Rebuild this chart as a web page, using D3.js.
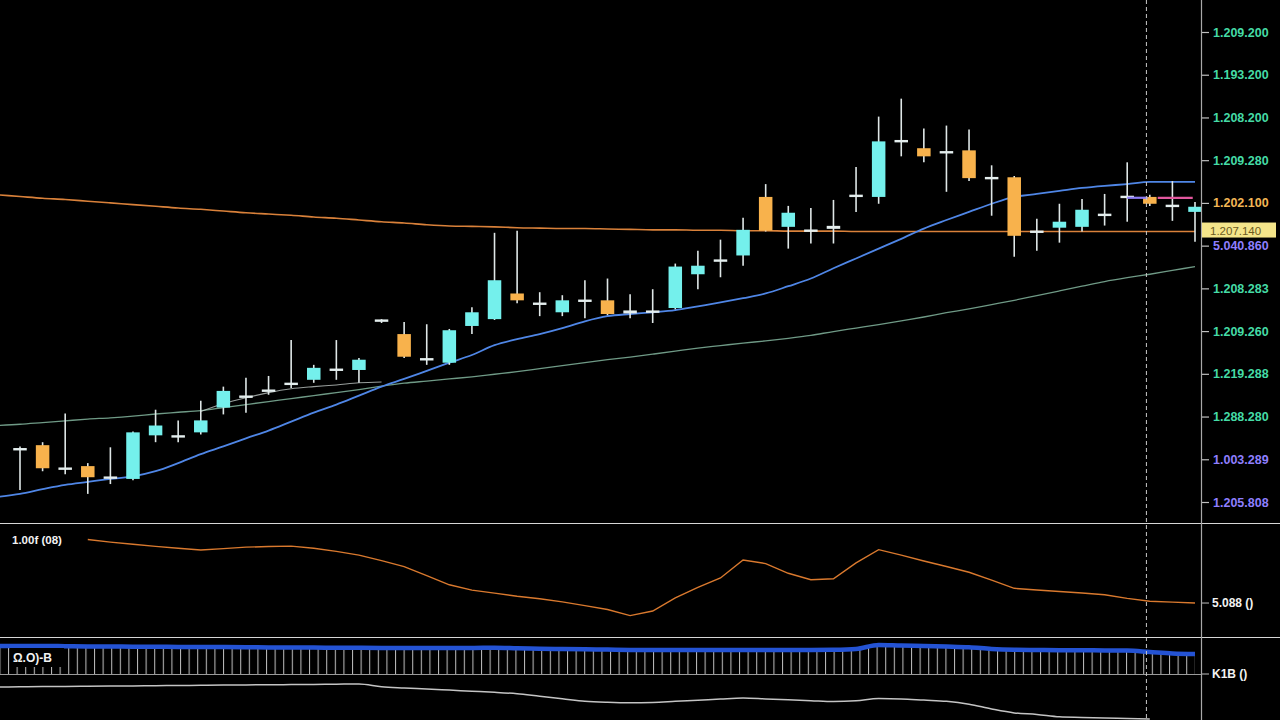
<!DOCTYPE html>
<html>
<head>
<meta charset="utf-8">
<script src="https://cdn.jsdelivr.net/npm/d3@7/dist/d3.min.js"></script>
<style>
html, body { margin: 0; padding: 0; background: #000; }
svg { display: block; }
text { font-family: "Liberation Sans", Arial, sans-serif; }
</style>
</head>
<body>
<svg id="chart" width="1280" height="720"></svg>
<script>
// candles (bar 1..53)
const opens  = [1.20121,1.20133,1.20077,1.20084,1.20056,1.20054,1.20156,1.20151,1.20163,1.20221,1.20244,1.20258,1.20274,1.20286,1.20307,1.20309,1.20423,1.20393,1.20333,1.20326,1.20412,1.20428,1.20488,1.20463,1.20444,1.20470,1.20472,1.20449,1.20444,1.20454,1.20533,1.20563,1.20577,1.20714,1.20644,1.20633,1.20640,1.20714,1.20714,1.20842,1.20828,1.20816,1.20823,1.20756,1.20760,1.20630,1.20642,1.20644,1.20670,1.20712,1.20714,1.20691,1.20679];
const highs  = [1.20130,1.20140,1.20207,1.20091,1.20128,1.20165,1.20216,1.20191,1.20237,1.20270,1.20291,1.20295,1.20379,1.20321,1.20379,1.20337,1.20428,1.20421,1.20416,1.20405,1.20456,1.20630,1.20635,1.20491,1.20484,1.20519,1.20523,1.20486,1.20498,1.20558,1.20588,1.20614,1.20665,1.20744,1.20693,1.20688,1.20707,1.20784,1.20902,1.20944,1.20874,1.20881,1.20872,1.20788,1.20763,1.20663,1.20698,1.20709,1.20721,1.20795,1.20719,1.20751,1.20702];
const lows   = [1.20028,1.20072,1.20065,1.20019,1.20042,1.20051,1.20140,1.20140,1.20158,1.20205,1.20209,1.20251,1.20267,1.20279,1.20286,1.20279,1.20419,1.20337,1.20321,1.20321,1.20393,1.20426,1.20465,1.20435,1.20435,1.20430,1.20437,1.20430,1.20419,1.20451,1.20498,1.20526,1.20553,1.20633,1.20593,1.20605,1.20605,1.20679,1.20698,1.20809,1.20795,1.20726,1.20751,1.20670,1.20574,1.20588,1.20607,1.20633,1.20647,1.20656,1.20693,1.20658,1.20609];
const closes = [1.20126,1.20079,1.20079,1.20058,1.20058,1.20163,1.20179,1.20156,1.20191,1.20260,1.20249,1.20263,1.20279,1.20314,1.20312,1.20333,1.20426,1.20340,1.20335,1.20402,1.20444,1.20519,1.20472,1.20465,1.20472,1.20472,1.20440,1.20442,1.20447,1.20551,1.20553,1.20567,1.20637,1.20635,1.20677,1.20637,1.20647,1.20719,1.20844,1.20847,1.20809,1.20821,1.20758,1.20760,1.20623,1.20635,1.20656,1.20684,1.20674,1.20716,1.20698,1.20695,1.20691];

// overlay lines, bar 0..53 (bar 0 = the one just left of the screen)
const maFast = [1.20012,1.20019,1.20030,1.20040,1.20047,1.20054,1.20060,1.20072,1.20091,1.20112,1.20130,1.20149,1.20167,1.20188,1.20209,1.20228,1.20249,1.20270,1.20288,1.20307,1.20326,1.20344,1.20367,1.20381,1.20393,1.20407,1.20423,1.20435,1.20440,1.20444,1.20449,1.20458,1.20467,1.20477,1.20488,1.20505,1.20523,1.20547,1.20570,1.20593,1.20616,1.20640,1.20660,1.20679,1.20698,1.20714,1.20721,1.20728,1.20735,1.20740,1.20744,1.20749,1.20749,1.20749];
const maSlow = [1.20719,1.20715,1.20711,1.20708,1.20704,1.20700,1.20696,1.20692,1.20688,1.20685,1.20681,1.20677,1.20674,1.20671,1.20667,1.20664,1.20660,1.20656,1.20653,1.20649,1.20646,1.20645,1.20644,1.20642,1.20641,1.20640,1.20640,1.20639,1.20638,1.20637,1.20637,1.20636,1.20636,1.20635,1.20635,1.20634,1.20634,1.20634,1.20633,1.20633,1.20633,1.20633,1.20633,1.20633,1.20633,1.20633,1.20633,1.20633,1.20633,1.20633,1.20633,1.20633,1.20633,1.20633];
const maTrend = [1.20179,1.20182,1.20186,1.20190,1.20194,1.20197,1.20201,1.20206,1.20210,1.20214,1.20221,1.20228,1.20235,1.20242,1.20249,1.20256,1.20263,1.20271,1.20278,1.20283,1.20288,1.20293,1.20299,1.20305,1.20312,1.20319,1.20326,1.20333,1.20339,1.20346,1.20353,1.20360,1.20366,1.20372,1.20377,1.20383,1.20390,1.20399,1.20407,1.20415,1.20424,1.20433,1.20443,1.20452,1.20462,1.20472,1.20483,1.20494,1.20505,1.20516,1.20525,1.20533,1.20542,1.20551];
// short faint guide drawn over bars 9..17
const guide = [null,null,null,null,null,null,null,null,null,1.20212,1.20230,1.20244,1.20256,1.20265,1.20270,1.20274,1.20279,1.20281,null,null,null,null,null,null,null,null,null,null,null,null,null,null,null,null,null,null,null,null,null,null,null,null,null,null,null,null,null,null,null,null,null,null,null,null];

// lower panels, bar 0..53
const osc = [null,null,null,null,85.5,83.2,81.3,79.5,77.8,76.3,77.5,78.8,79.4,79.7,77.8,75.1,71.8,67.0,61.7,53.8,45.8,41.1,38.5,35.7,33.5,30.8,27.5,24.1,18.8,22.8,34.4,43.5,51.8,67.5,64.4,55.9,50.2,51.1,65.0,76.6,71.8,66.7,61.8,56.8,49.9,42.7,41.2,39.9,38.6,37.1,33.9,31.3,30.6,29.8];
const signal = [28,28,28,27.8,27.6,27.5,27.3,27.2,27.1,27.0,26.9,26.8,26.6,26.5,26.4,26.3,26.2,26.1,26.0,26.0,26.0,26.0,26.3,25.8,25.3,25.0,24.7,24.4,24.1,24.0,24.0,24.0,24.0,24.0,24.0,24.0,24.0,24.2,25.0,29.0,28.4,28.0,27.5,26.8,25.0,24.2,24.0,23.8,23.7,23.6,23.5,22.0,20.5,20.0];
const slowSignal = [-13,-12.8,-12.6,-12.5,-12.3,-12.1,-11.9,-11.7,-11.5,-11.3,-11.1,-10.9,-10.8,-10.6,-10.4,-10.2,-10,-12.8,-14,-15,-16.1,-17.2,-18.3,-19.8,-22.3,-24.7,-27.2,-28.3,-28.8,-28.4,-27.3,-26.2,-25,-24,-24.9,-25.8,-26.7,-27.6,-26.8,-24.6,-24.9,-26.1,-27.3,-30.2,-35,-38.9,-40.4,-42.8,-43.4,-44,-44.6,-45,null,null];

// right axis
const priceTicks = [1.2110,1.2100,1.2090,1.2080,1.2070,1.2060,1.2050,1.2040,1.2030,1.2020,1.2010,1.2000];
const priceTickLabels = ["1.209.200","1.193.200","1.208.200","1.209.280","1.202.100","5.040.860","1.208.283","1.209.260","1.219.288","1.288.280","1.003.289","1.205.808"];
const maSlowLabel = "1.207.140";
const oscLabel = "1.00f (08)";
const oscValueLabel = "5.088 ()";
const volLabel = "Ω.O)-B";
const volValueLabel = "K1B ()";

// bid/ask markers near the last bars
const levelPrice = [1.20712, 1.20712];
const levelFrom = [50, 51.35];
const levelTo = [50.9, 52.9];
const crosshairBar = 50.85;

const svg = d3.select("#chart");
const axisX = 1201;
const x = d3.scaleLinear().domain([1, 53]).range([20, 1195]);
const y = d3.scaleLinear().domain([1.2000, 1.2110]).range([502, 32]);
const yOsc = d3.scaleLinear().domain([0, 100]).range([637, 523]);
const yVol = d3.scaleLinear().domain([-46, 37]).range([720, 637]);

svg.append("rect").attr("width", 1280).attr("height", 720).attr("fill", "#000");

const defs = svg.append("defs");
defs.append("clipPath").attr("id", "clipMain").append("rect").attr("x", 0).attr("y", 0).attr("width", axisX).attr("height", 523);
defs.append("clipPath").attr("id", "clipOsc").append("rect").attr("x", 0).attr("y", 524).attr("width", axisX).attr("height", 113);
defs.append("clipPath").attr("id", "clipVol").append("rect").attr("x", 0).attr("y", 638).attr("width", axisX).attr("height", 82);
const hatch = defs.append("pattern").attr("id", "hatch").attr("patternUnits", "userSpaceOnUse")
  .attr("x", 8).attr("width", 8.6).attr("height", 10);
hatch.append("line").attr("x1", 0.5).attr("x2", 0.5).attr("y1", 0).attr("y2", 10)
  .attr("stroke", "#b8b8b8").attr("stroke-width", 1.1);

// ---------- main panel ----------
const main = svg.append("g").attr("clip-path", "url(#clipMain)");
const bars = d3.range(0, 54);

const lineOf = (arr, ys, curve) => d3.line()
  .defined(k => arr[k] != null)
  .x(k => x(k)).y(k => ys(arr[k]))
  .curve(curve || d3.curveMonotoneX);

main.append("path").attr("d", lineOf(maTrend, y)(bars))
  .attr("fill", "none").attr("stroke", "#6f9a86").attr("stroke-width", 1.3);
main.append("path").attr("d", lineOf(guide, y)(bars))
  .attr("fill", "none").attr("stroke", "#c9d2cf").attr("stroke-width", 1.1).attr("opacity", 0.75);
main.append("path").attr("d", lineOf(maSlow, y)(bars))
  .attr("fill", "none").attr("stroke", "#d9813a").attr("stroke-width", 1.6);
main.append("path").attr("d", lineOf(maFast, y)(bars))
  .attr("fill", "none").attr("stroke", "#4f86e6").attr("stroke-width", 1.8);

const candles = opens.map((o, i) => ({ k: i + 1, o, h: highs[i], l: lows[i], c: closes[i] }));
const bodyW = 13.5;
const cg = main.selectAll("g.candle").data(candles).join("g").attr("class", "candle");
cg.append("line")
  .attr("x1", d => x(d.k)).attr("x2", d => x(d.k))
  .attr("y1", d => y(d.h)).attr("y2", d => y(d.l))
  .attr("stroke", "#dfe7e7").attr("stroke-width", 1.6);
cg.append("rect")
  .attr("x", d => x(d.k) - bodyW / 2)
  .attr("width", bodyW)
  .attr("y", d => {
    const hgt = Math.abs(y(d.o) - y(d.c));
    return hgt < 3 ? (y(d.o) + y(d.c)) / 2 - 1.2 : Math.min(y(d.o), y(d.c));
  })
  .attr("height", d => Math.max(2.4, Math.abs(y(d.o) - y(d.c))))
  .attr("fill", d => {
    if (Math.abs(y(d.o) - y(d.c)) < 3) return "#e4eeee";
    return d.c >= d.o ? "#74f0ec" : "#f8b24c";
  });

// bid / ask segments
const levelColors = ["#8c7cf5", "#e2579e"];
levelPrice.forEach((p, i) => {
  main.append("line")
    .attr("x1", x(levelFrom[i])).attr("x2", x(levelTo[i]))
    .attr("y1", y(p)).attr("y2", y(p))
    .attr("stroke", levelColors[i]).attr("stroke-width", 2.2);
});

// ---------- oscillator panel ----------
const oscG = svg.append("g").attr("clip-path", "url(#clipOsc)");
oscG.append("path").attr("d", lineOf(osc, yOsc, d3.curveLinear)(bars))
  .attr("fill", "none").attr("stroke", "#d9792e").attr("stroke-width", 1.4);

// ---------- volume-ish panel ----------
const volG = svg.append("g").attr("clip-path", "url(#clipVol)");
const area = d3.area().x(k => x(k)).y0(yVol(0)).y1(k => yVol(signal[k])).curve(d3.curveMonotoneX);
volG.append("path").attr("d", area(bars)).attr("fill", "url(#hatch)");
volG.append("line").attr("x1", 0).attr("x2", axisX).attr("y1", yVol(0) + 0.5).attr("y2", yVol(0) + 0.5)
  .attr("stroke", "#9a9a9a").attr("stroke-width", 1);
volG.append("path").attr("d", lineOf(signal, yVol)(bars))
  .attr("fill", "none").attr("stroke", "#2453d4").attr("stroke-width", 4.5);
volG.append("path").attr("d", lineOf(slowSignal, yVol)(bars))
  .attr("fill", "none").attr("stroke", "#c4c4c4").attr("stroke-width", 1.5);

// ---------- frame ----------
svg.append("line").attr("x1", x(crosshairBar)).attr("x2", x(crosshairBar)).attr("y1", 0).attr("y2", 720)
  .attr("stroke", "#c8c8c8").attr("stroke-width", 1).attr("stroke-dasharray", "4,3");
[523.5, 637.5].forEach(v => svg.append("line").attr("x1", 0).attr("x2", 1280).attr("y1", v).attr("y2", v)
  .attr("stroke", "#d6d6d6").attr("stroke-width", 1.2));
svg.append("line").attr("x1", axisX + 0.5).attr("x2", axisX + 0.5).attr("y1", 0).attr("y2", 720)
  .attr("stroke", "#a8a8a8").attr("stroke-width", 1.2);

// right price axis
const tickColor = (v, i) => {
  if (i === 4) return "#f2b655";
  if (i === 5 || i >= 10) return "#8e7fff";
  return "#45dba6";
};
const yAxis = d3.axisRight(y).tickValues(priceTicks).tickSize(7).tickPadding(4)
  .tickFormat((d, i) => priceTickLabels[i]);
const axG = svg.append("g").attr("transform", `translate(${axisX + 1},0)`).call(yAxis);
axG.select(".domain").remove();
axG.selectAll(".tick line").attr("stroke", "#bfbfbf").attr("stroke-width", 1.2);
axG.selectAll(".tick text")
  .attr("fill", (d, i) => tickColor(d, i))
  .attr("font-size", 12.5).attr("font-weight", "bold");

// slow MA value badge
const lastSlow = maSlow[maSlow.length - 1];
svg.append("rect").attr("x", axisX + 1).attr("y", y(lastSlow) - 9).attr("width", 74).attr("height", 15)
  .attr("fill", "#f4e58a");
svg.append("text").attr("x", axisX + 9).attr("y", y(lastSlow) + 3).attr("font-size", 11.5)
  .attr("fill", "#6b5a1e").text(maSlowLabel);

// panel labels
svg.append("text").attr("x", 12).attr("y", yOsc(85) + 4).attr("fill", "#f2f2f2")
  .attr("font-size", 11.5).attr("font-weight", "bold").text(oscLabel);
const lastOsc = osc[osc.length - 1];
svg.append("line").attr("x1", axisX + 1).attr("x2", axisX + 8).attr("y1", yOsc(lastOsc)).attr("y2", yOsc(lastOsc))
  .attr("stroke", "#bfbfbf");
svg.append("text").attr("x", axisX + 11).attr("y", yOsc(lastOsc) + 4).attr("fill", "#f2f2f2")
  .attr("font-size", 12).attr("font-weight", "bold").text(oscValueLabel);

svg.append("rect").attr("x", 10).attr("y", 648).attr("width", 54).attr("height", 19).attr("fill", "#000");
svg.append("text").attr("x", 13).attr("y", 662).attr("fill", "#f2f2f2")
  .attr("font-size", 12).attr("font-weight", "bold").text(volLabel);
svg.append("line").attr("x1", axisX + 1).attr("x2", axisX + 8).attr("y1", yVol(0)).attr("y2", yVol(0))
  .attr("stroke", "#bfbfbf");
svg.append("text").attr("x", axisX + 11).attr("y", yVol(0) + 4).attr("fill", "#f2f2f2")
  .attr("font-size", 12).attr("font-weight", "bold").text(volValueLabel);
</script>
</body>
</html>
